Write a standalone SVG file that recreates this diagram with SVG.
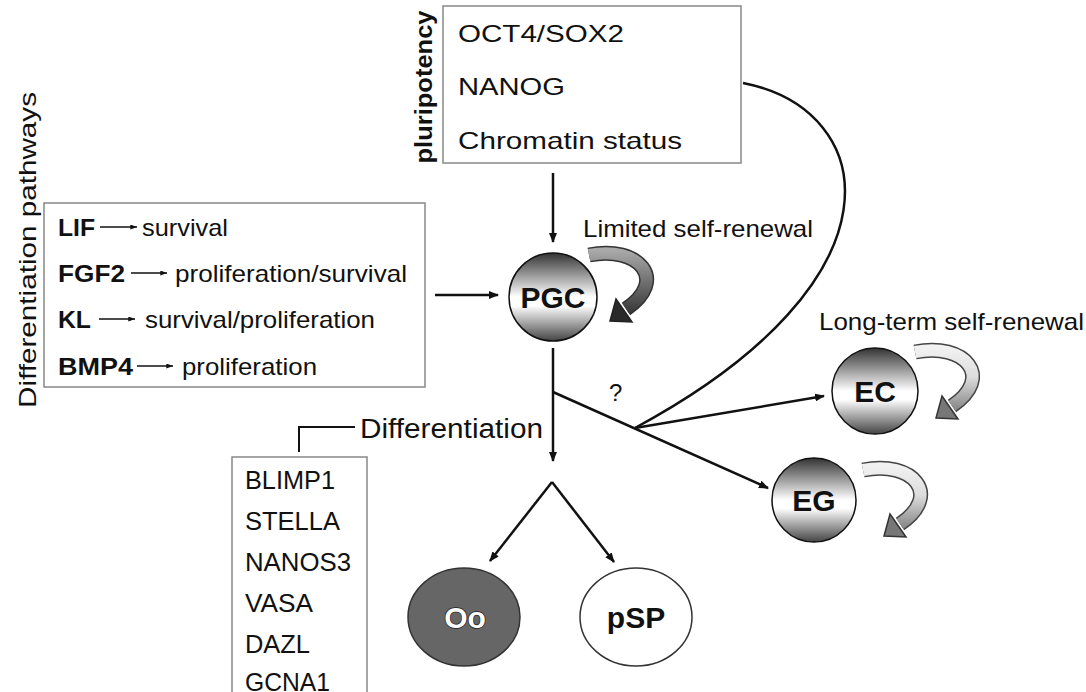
<svg xmlns="http://www.w3.org/2000/svg" width="1086" height="692" viewBox="0 0 1086 692">
<style>
text{font-family:"Liberation Sans",Arial,sans-serif;fill:#111}
.t{font-size:24px}
.b{font-weight:bold}
.lbl{font-size:30px;font-weight:bold;text-anchor:middle}
.box{fill:#fff;stroke:#888;stroke-width:1.5}
.ln{fill:none;stroke:#111;stroke-width:2.5}
.sm{fill:none;stroke:#111;stroke-width:1.5}
.sph{fill:url(#sph);stroke:#111;stroke-width:1.5}
</style>
<defs>
<linearGradient id="sph" x1="0" y1="0" x2="0" y2="1">
<stop offset="0" stop-color="#333"/><stop offset="0.5" stop-color="#fff"/><stop offset="0.6" stop-color="#fff"/><stop offset="1" stop-color="#444"/>
</linearGradient>
<linearGradient id="cd" gradientUnits="userSpaceOnUse" x1="0" y1="-5" x2="0" y2="70">
<stop offset="0" stop-color="#aaa"/><stop offset="1" stop-color="#222"/>
</linearGradient>
<linearGradient id="cl" gradientUnits="userSpaceOnUse" x1="0" y1="-5" x2="0" y2="70">
<stop offset="0" stop-color="#f2f2f2"/><stop offset="0.4" stop-color="#ddd"/><stop offset="1" stop-color="#666"/>
</linearGradient>
<marker id="ah" viewBox="0 0 10 8" refX="9" refY="4" markerWidth="10" markerHeight="8" markerUnits="userSpaceOnUse" orient="auto">
<path d="M0,0 L10,4 L0,8 Z" fill="#111"/>
</marker>
<marker id="as" viewBox="0 0 8 6" refX="8" refY="3" markerWidth="7" markerHeight="5" markerUnits="userSpaceOnUse" orient="auto">
<path d="M0,0 L8,3 L0,6 Z" fill="#111"/>
</marker>
<g id="curlD">
<path d="M0,0 C50,-10 80,25 37,54" fill="none" stroke="#333" stroke-width="15"/>
<path d="M0,0 C50,-10 80,25 37,54" fill="none" stroke="url(#cd)" stroke-width="12"/>
<path d="M27,44 L43,67 L21,66 Z" fill="#2a2a2a" stroke="#222" stroke-width="1.5"/>
</g>
<g id="curlL">
<path d="M0,0 C50,-10 80,25 37,54" fill="none" stroke="#444" stroke-width="15"/>
<path d="M0,0 C50,-10 80,25 37,54" fill="none" stroke="url(#cl)" stroke-width="12"/>
<path d="M27,44 L43,67 L21,66 Z" fill="#777" stroke="#333" stroke-width="1.5"/>
</g>
</defs>
<rect width="1086" height="692" fill="#fff"/>

<g id="pluripotency">
<rect class="box" x="443" y="6" width="298" height="157"/>
<text class="t b" transform="translate(432,87) rotate(-90)" text-anchor="middle" textLength="153" lengthAdjust="spacingAndGlyphs">pluripotency</text>
<text class="t" x="458" y="42" textLength="166" lengthAdjust="spacingAndGlyphs">OCT4/SOX2</text>
<text class="t" x="458" y="95" textLength="107" lengthAdjust="spacingAndGlyphs">NANOG</text>
<text class="t" x="458" y="149" textLength="224" lengthAdjust="spacingAndGlyphs">Chromatin status</text>
</g>

<g id="pathways">
<rect class="box" x="44" y="203" width="381" height="184"/>
<text class="t" transform="translate(36,250) rotate(-90)" text-anchor="middle" textLength="316" lengthAdjust="spacingAndGlyphs">Differentiation pathways</text>
<text class="t b" x="58" y="236" textLength="37" lengthAdjust="spacingAndGlyphs">LIF</text>
<path class="sm" d="M100,227 H137" marker-end="url(#as)"/>
<text class="t" x="142" y="236" textLength="86" lengthAdjust="spacingAndGlyphs">survival</text>
<text class="t b" x="58" y="282" textLength="67" lengthAdjust="spacingAndGlyphs">FGF2</text>
<path class="sm" d="M131,273 H167" marker-end="url(#as)"/>
<text class="t" x="175" y="282" textLength="232" lengthAdjust="spacingAndGlyphs">proliferation/survival</text>
<text class="t b" x="58" y="328" textLength="33" lengthAdjust="spacingAndGlyphs">KL</text>
<path class="sm" d="M99,319 H135" marker-end="url(#as)"/>
<text class="t" x="145" y="328" textLength="230" lengthAdjust="spacingAndGlyphs">survival/proliferation</text>
<text class="t b" x="58" y="375" textLength="75" lengthAdjust="spacingAndGlyphs">BMP4</text>
<path class="sm" d="M137,366 H173" marker-end="url(#as)"/>
<text class="t" x="182" y="375" textLength="135" lengthAdjust="spacingAndGlyphs">proliferation</text>
</g>

<g id="markers">
<path d="M299,452 V427 H355" fill="none" stroke="#111" stroke-width="2"/>
<text x="360" y="438" style="font-size:27px" textLength="183" lengthAdjust="spacingAndGlyphs">Differentiation</text>
<rect class="box" x="232" y="457" width="135" height="250"/>
<text class="t" x="245" y="489" style="font-size:25px" textLength="90" lengthAdjust="spacingAndGlyphs">BLIMP1</text>
<text class="t" x="245" y="530" style="font-size:25px" textLength="95" lengthAdjust="spacingAndGlyphs">STELLA</text>
<text class="t" x="245" y="571" style="font-size:25px" textLength="106" lengthAdjust="spacingAndGlyphs">NANOS3</text>
<text class="t" x="245" y="612" style="font-size:25px" textLength="68" lengthAdjust="spacingAndGlyphs">VASA</text>
<text class="t" x="245" y="653" style="font-size:25px" textLength="65" lengthAdjust="spacingAndGlyphs">DAZL</text>
<text class="t" x="245" y="691" style="font-size:25px" textLength="85" lengthAdjust="spacingAndGlyphs">GCNA1</text>
</g>

<g id="connectors">
<path class="ln" d="M553,173 V242" marker-end="url(#ah)"/>
<path class="ln" d="M435,295 H498" marker-end="url(#ah)"/>
<path class="ln" d="M553,348 V461" marker-end="url(#ah)"/>
<path class="ln" d="M553,392 L768,488" marker-end="url(#ah)"/>
<path class="ln" d="M635,428 L824,396" marker-end="url(#ah)"/>
<path class="ln" d="M743,83 C880,110 910,280 635,428"/>
<path class="ln" d="M552,482 L490,561" marker-end="url(#ah)"/>
<path class="ln" d="M552,482 L614,562" marker-end="url(#ah)"/>
<text class="t" x="609" y="401">?</text>
</g>

<g id="PGC">
<circle class="sph" cx="553" cy="297" r="44"/>
<text class="lbl" x="553" y="308">PGC</text>
<use href="#curlD" transform="translate(589,255)"/>
<text class="t" x="583" y="237" textLength="230" lengthAdjust="spacingAndGlyphs">Limited self-renewal</text>
</g>

<g id="EC">
<circle class="sph" cx="875" cy="391" r="43"/>
<text class="lbl" x="875" y="402">EC</text>
<use href="#curlL" transform="translate(915,352)"/>
<text class="t" x="819" y="330" textLength="265" lengthAdjust="spacingAndGlyphs">Long-term self-renewal</text>
</g>

<g id="EG">
<circle class="sph" cx="814" cy="500" r="42"/>
<text class="lbl" x="814" y="511">EG</text>
<use href="#curlL" transform="translate(863,470)"/>
</g>

<g id="Oo">
<ellipse cx="464" cy="617" rx="56" ry="49" fill="#666" stroke="#333" stroke-width="1.5"/>
<text class="lbl" x="465" y="628" style="fill:#fff;stroke:#222;stroke-width:1.5;paint-order:stroke">Oo</text>
</g>

<g id="pSP">
<ellipse cx="636" cy="617" rx="56" ry="49" fill="#fff" stroke="#333" stroke-width="1.5"/>
<text class="lbl" x="636" y="628">pSP</text>
</g>
</svg>
